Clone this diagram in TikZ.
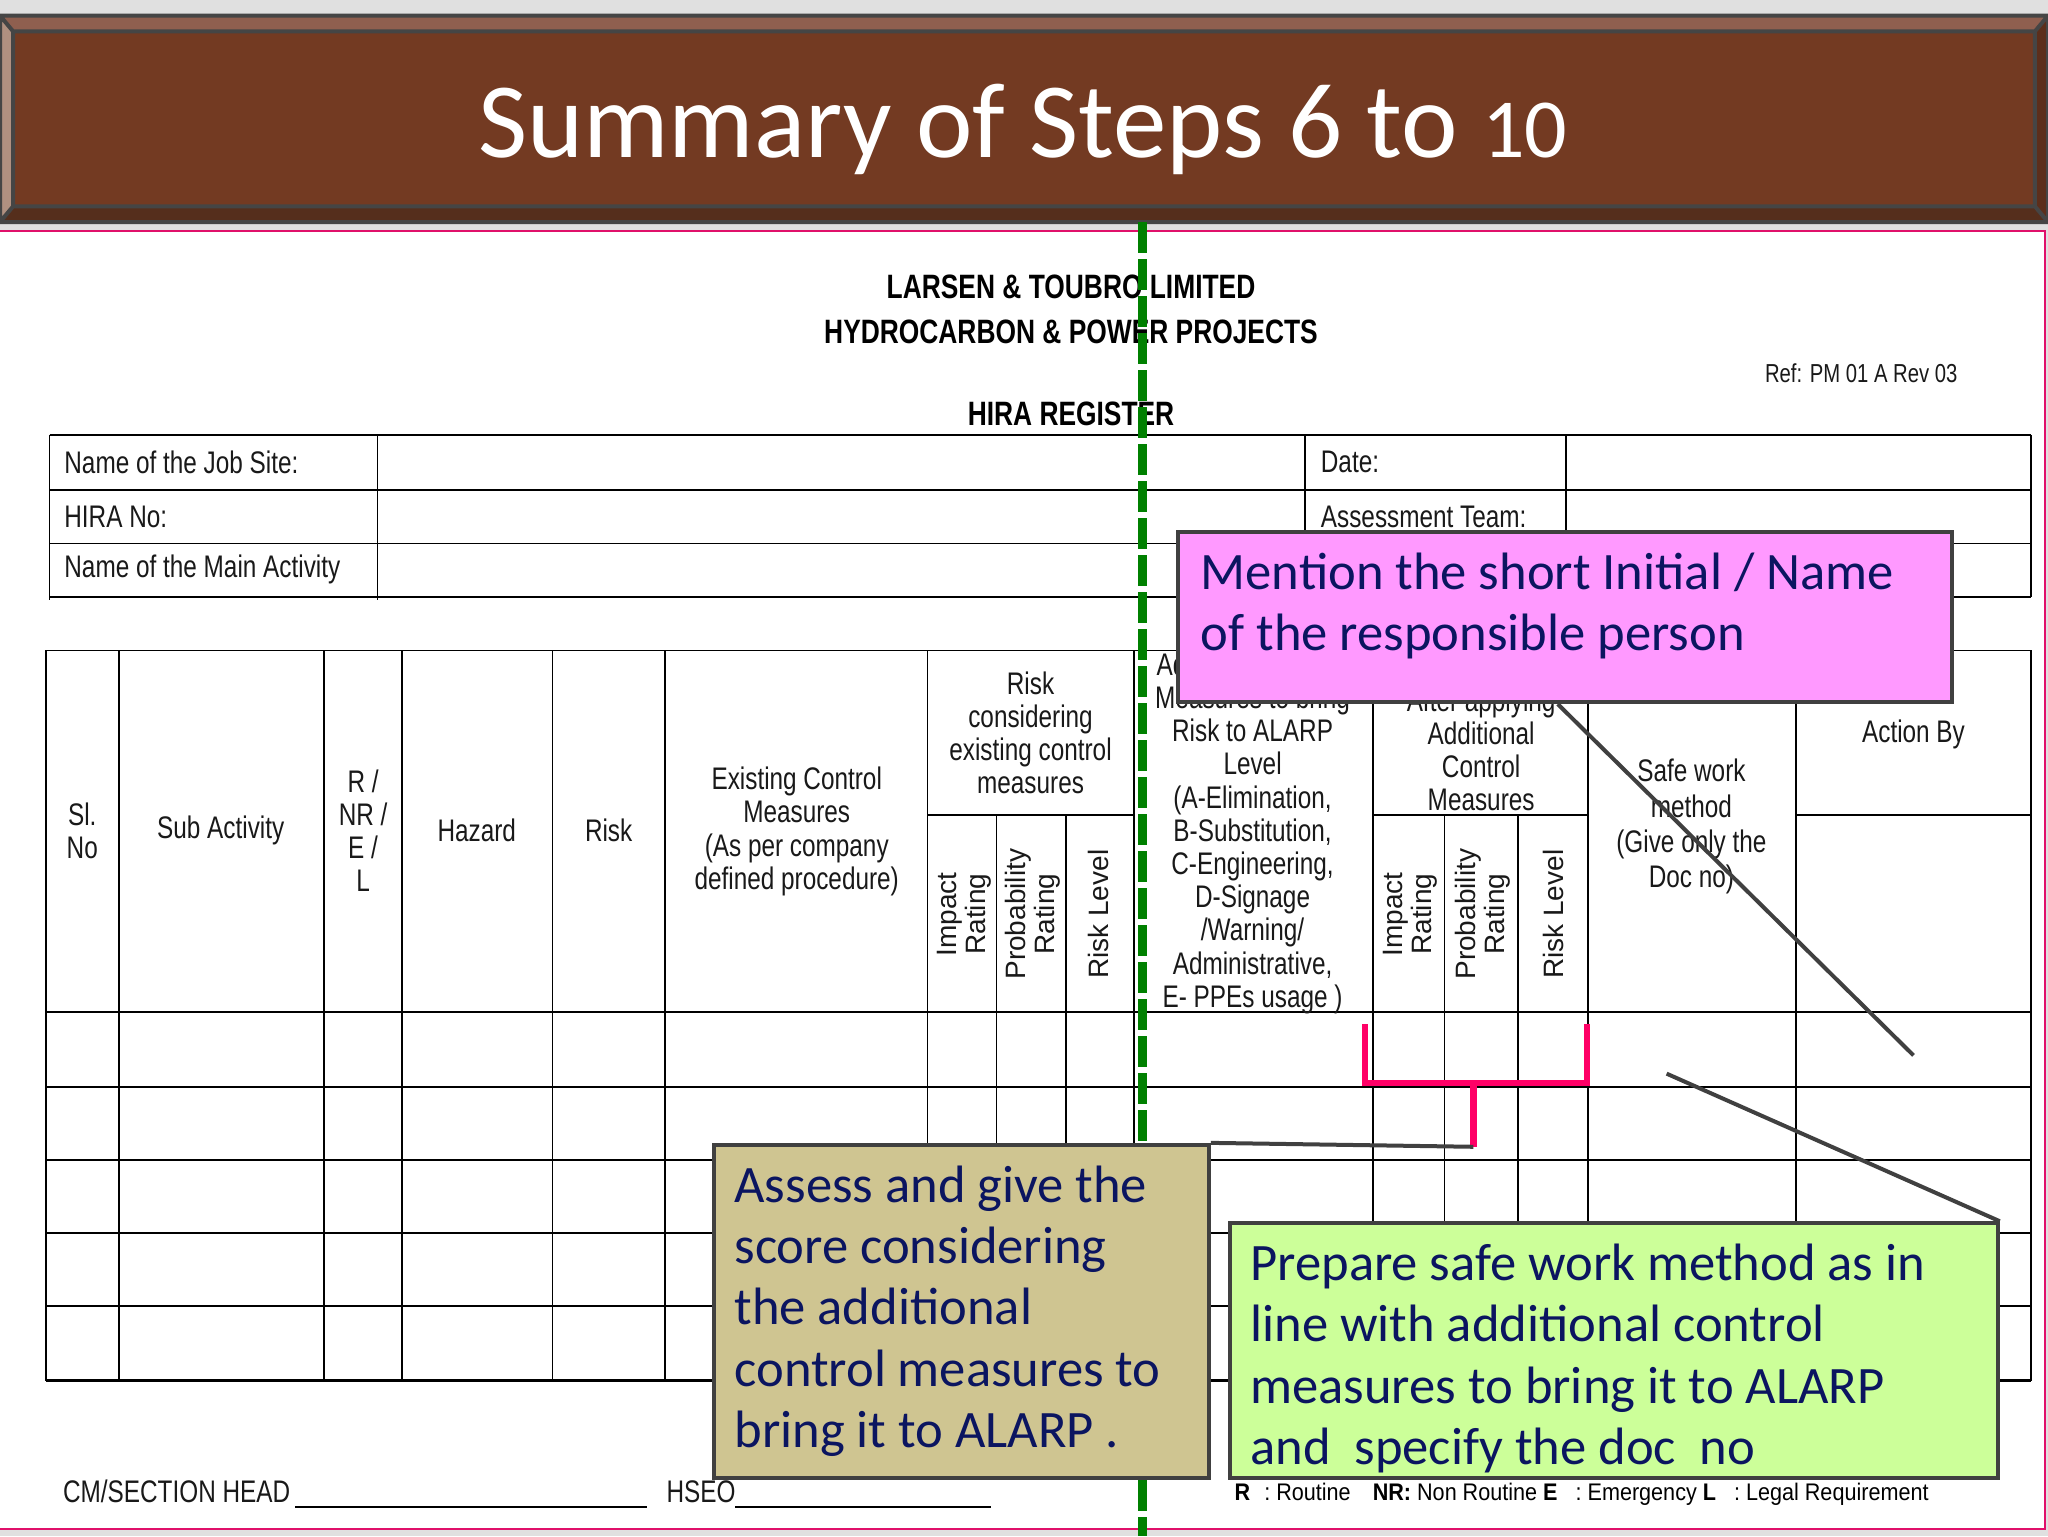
\documentclass[tikz,border=0pt]{standalone}
\usepackage{fontspec}
\setmainfont{Liberation Sans}
\newfontfamily\tabfont[FakeStretch=0.78]{Liberation Sans}
\newfontfamily\legfont[FakeStretch=0.9]{Liberation Sans}
\newfontfamily\boxfont{Carlito}
\newfontfamily\titlefont{Carlito}
\usetikzlibrary{calc}
\definecolor{band}{HTML}{733A22}
\definecolor{bandtop}{HTML}{8F5F4F}
\definecolor{bandleft}{HTML}{B09080}
\definecolor{bandbot}{HTML}{552E1C}
\definecolor{bandright}{HTML}{5C2E1B}
\definecolor{bandline}{HTML}{454545}
\definecolor{pagegray}{HTML}{E0E0E0}
\definecolor{rimpink}{HTML}{E0106A}
\definecolor{brack}{HTML}{FF0066}
\definecolor{dashgreen}{HTML}{008000}
\definecolor{navytext}{HTML}{0B1560}
\definecolor{pinkfill}{HTML}{FF99FF}
\definecolor{khaki}{HTML}{CFC591}
\definecolor{limefill}{HTML}{CCFF99}
\definecolor{edge}{HTML}{404040}
\tikzset{
  x=0.65306pt,y=-0.65306pt,
  grid/.style={line width=0.85pt,black},
  th/.style={inner sep=0pt,align=center,font=\tabfont\fontsize{15.6}{16.6}\selectfont,text=black!90},
  tl/.style={th,anchor=west,align=left},
  rot/.style={inner sep=0pt,align=center,rotate=90,font=\fontsize{14}{14.4}\selectfont,text=black!90},
  headtxt/.style={inner sep=0pt,font=\tabfont\bfseries\fontsize{16.9}{16.6}\selectfont},
  callout/.style={draw=edge,line width=2pt,anchor=north west,inner sep=0pt},
  calltxt/.style={inner sep=0pt,anchor=north west,align=left,text=navytext,font=\boxfont\fontsize{26.3}{30.7}\selectfont},
  lead/.style={draw=edge,line width=2pt},
  bracket/.style={draw=brack,line width=3.2pt},
}
\begin{document}
\begin{tikzpicture}
\useasboundingbox (0,0) rectangle (1568,1176);
% page
\fill[pagegray] (0,0) rectangle (1568,1176);
\fill[white] (-2,176.5) rectangle (1566,1171);
\draw[rimpink,line width=1pt] (-2,176.5) rectangle (1566,1171);
% title band
\fill[bandtop] (0,12) -- (1568,12) -- (1558,24) -- (10,24) -- cycle;
\fill[bandleft] (0,12) -- (10,24) -- (10,158) -- (0,170) -- cycle;
\fill[bandbot] (0,170) -- (10,158) -- (1558,158) -- (1568,170) -- cycle;
\fill[bandright] (1568,12) -- (1558,24) -- (1558,158) -- (1568,170) -- cycle;
\fill[band] (10,24) rectangle (1558,158);
\draw[bandline,line width=2pt] (0,12) rectangle (1568,170) (10,24) rectangle (1558,158)
  (0,12) -- (10,24) (1568,12) -- (1558,24) (0,170) -- (10,158) (1568,170) -- (1558,158);
\node[inner sep=0pt,text=white,font=\titlefont\fontsize{53.5}{54}\selectfont] (title) at (783,99) {Summary of Steps 6 to {\fontsize{42}{54}\selectfont 10}};
% form heading
\node[headtxt] (h1) at (820,220) {LARSEN \& TOUBRO LIMITED};
\node[headtxt] (h2) at (820,254) {HYDROCARBON \& POWER PROJECTS};
\node[th,font=\tabfont\fontsize{13}{16}\selectfont] (ref) at (1425,286) {Ref: PM 01 A Rev 03};
\node[headtxt] (h3) at (820,317) {HIRA REGISTER};
% info table
\draw[grid] (38,333) -- (1555,333) (38,375) -- (1555,375) (38,416) -- (1555,416) (38,457) -- (1555,457);
\draw[grid] (38,333) -- (38,459) (289,333) -- (289,459) (999,333) -- (999,457) (1199,333) -- (1199,457) (1555,333) -- (1555,457);
\node[tl] (i1) at (49,354) {Name of the Job Site:};
\node[tl] (i2) at (49,396) {HIRA No:};
\node[tl] (i3) at (49,436) {Name of the Main Activity};
\node[tl] (i4) at (1011,354) {Date:};
\node[tl] (i5) at (1011,396) {Assessment Team:};
% main table
\draw[grid] (35,498) -- (1555,498);
\foreach \yy in {775,832,888,944,1000} \draw[grid] (35,\yy) -- (1555,\yy);
\draw[grid,line width=1.2pt] (35,1057) -- (1555,1057);
\foreach \xx in {35,91,248,308,423,509,710,868,1216,1375,1555} \draw[grid] (\xx,498) -- (\xx,1057);
\foreach \xx in {763,816,1106,1162} \draw[grid] (\xx,624) -- (\xx,1057);
\draw[grid] (1051,498) -- (1051,1057);
\draw[grid] (710,624) -- (868,624) (1051,624) -- (1216,624) (1375,624) -- (1555,624);
\node[th] (c1) at (63,636) {Sl.\\No};
\node[th] (c2) at (169,636) {Sub Activity};
\node[th] (c3) at (278,636) {R /\\NR /\\E /\\L};
\node[th] (c4) at (365,636) {Hazard};
\node[th] (c5) at (466,636) {Risk};
\node[th] (c6) at (610,636.5) {Existing Control\\Measures\\(As per company\\defined procedure)};
\node[th] (c7) at (789,561) {Risk\\considering\\existing control\\measures};
\node[rot] (r1) at (738,700) {Impact\\Rating};
\node[rot] (r2) at (791,700) {Probability\\Rating};
\node[rot] (r3) at (841,700) {Risk Level};
\node[th] (c8) at (959,638) {Additional Control\\Measures to bring\\Risk to ALARP\\Level\\(A-Elimination,\\B-Substitution,\\C-Engineering,\\D-Signage\\/Warning/\\Administrative,\\E- PPEs usage )};
\node[th] (c9) at (1134,574) {After applying\\Additional\\Control\\Measures};
\node[rot] (r4) at (1080,700) {Impact\\Rating};
\node[rot] (r5) at (1135,700) {Probability\\Rating};
\node[rot] (r6) at (1189,700) {Risk Level};
\node[th,font=\tabfont\fontsize{15.6}{17.7}\selectfont] (c10) at (1295,633) {Safe work\\method\\(Give only the\\Doc no)};
\node[th] (c11) at (1465,562) {Action By};
% signature row
\node[tl] (s1) at (48,1142) {CM/SECTION HEAD};
\node[tl] (s2) at (510,1142) {HSEO};
\draw[line width=0.9pt] (226,1154) -- (495,1154) (563,1154) -- (759,1154);
\node[inner sep=0pt,anchor=west,font=\legfont\fontsize{12}{14}\selectfont] (leg) at (945,1144)
  {\textbf{R}\hspace{7pt}: Routine\hspace{11pt}\textbf{NR:} Non Routine \textbf{E}\hspace{9pt}: Emergency \textbf{L}\hspace{9pt}: Legal Requirement};
% green dashed rule
\draw[dashgreen,line width=4.6pt,dash pattern=on 15.5pt off 3pt] (875,170) -- (875,1176);
% bracket
\coordinate (brL) at (1045,784);
\coordinate (brR) at (1215,784);
\coordinate (brLc) at (1045,829);
\coordinate (brRc) at (1215,829);
\coordinate (brM) at (1128,829);
\coordinate (brB) at (1128,878);
\draw[bracket] (brL) -- (brLc) -- (brRc) -- (brR);
\draw[bracket] (brM) -- (brB);
% callouts
\node[callout,fill=pinkfill,minimum width=593*0.65306pt,minimum height=130*0.65306pt] (pinkbox) at (900,406) {};
\node[calltxt] (pinklabel) at (919,423) {Mention the short Initial / Name\\of the responsible person};
\node[callout,fill=khaki,minimum width=379*0.65306pt,minimum height=255*0.65306pt] (khakibox) at (545,875) {};
\node[calltxt] (khakilabel) at (562,892) {Assess and give the\\score considering\\the additional\\control measures to\\bring it to ALARP .};
\node[callout,fill=limefill,minimum width=588*0.65306pt,minimum height=195*0.65306pt] (greenbox) at (940,935) {};
\node[calltxt] (greenlabel) at (957,952) {Prepare safe work method as in\\line with additional control\\measures to bring it to ALARP\\and\ \ specify the doc\ \ no};
% leaders
\coordinate (pinkEnd) at (1465,808);
\coordinate (greenEnd) at (1276,822);
\draw[lead] ($(pinkbox.south west)!0.491!(pinkbox.south east)$) -- (pinkEnd);
\draw[lead] (greenbox.north east) -- (greenEnd);
\draw[lead] (khakibox.north east) -- (brB);
\end{tikzpicture}
\end{document}
